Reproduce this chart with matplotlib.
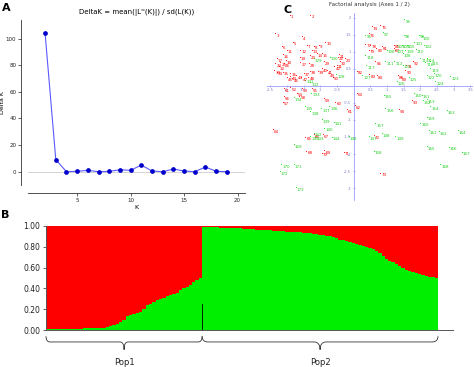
import matplotlib
matplotlib.use("Agg")
import matplotlib.pyplot as plt
from matplotlib.path import Path
from matplotlib.patches import PathPatch
import matplotlib.transforms as mtransforms

# ---------------- Panel A data ----------------
k_values = [2, 3, 4, 5, 6, 7, 8, 9, 10, 11, 12, 13, 14, 15, 16, 17, 18, 19]
delta_k = [104, 9, 0, 0.3, 1, 0, 0.2, 1.5, 1, 5, 0.5, 0, 2, 0.5, 0, 3.5, 0.3, 0]

# ---------------- Panel B data (green = cluster 2 membership) ----------------
pop1_green = [0.005, 0.006, 0.007, 0.008, 0.009, 0.010, 0.010, 0.011, 0.012, 0.013,
              0.014, 0.015, 0.016, 0.018, 0.020, 0.021, 0.022, 0.024, 0.028, 0.035,
              0.045, 0.060, 0.080, 0.100, 0.130, 0.140, 0.150, 0.160, 0.170, 0.200,
              0.240, 0.250, 0.270, 0.290, 0.300, 0.310, 0.330, 0.340, 0.350, 0.360,
              0.380, 0.400, 0.410, 0.430, 0.460, 0.480, 0.500]
pop2_green = [0.990, 0.990, 0.988, 0.987, 0.986, 0.985, 0.984, 0.983, 0.982, 0.980,
              0.978, 0.976, 0.974, 0.972, 0.970, 0.968, 0.966, 0.964, 0.962, 0.960,
              0.957, 0.955, 0.952, 0.950, 0.948, 0.946, 0.944, 0.942, 0.940, 0.938,
              0.935, 0.932, 0.930, 0.925, 0.920, 0.915, 0.910, 0.905, 0.900, 0.890,
              0.880, 0.870, 0.865, 0.860, 0.850, 0.840, 0.830, 0.820, 0.810, 0.800,
              0.790, 0.775, 0.760, 0.740, 0.710, 0.680, 0.665, 0.650, 0.635, 0.620,
              0.600, 0.580, 0.570, 0.560, 0.550, 0.540, 0.530, 0.520, 0.510, 0.505,
              0.500]
pop_labels = ["Pop1", "Pop2"]
y_ticks_b = [0.0, 0.2, 0.4, 0.6, 0.8, 1.0]

# ---------------- Panel C data (factorial analysis, axes 1/2) ----------------
red_x = [-1.92, -1.30, -2.35, -1.55, -1.82, -2.15, -1.40, -1.20, -1.05, -0.85,
         -2.00, -1.60, -1.25, -1.10, -0.95, -2.13, -2.30, -2.03, -1.62, -1.32,
         -0.45, -0.47, -0.27, -2.35, -2.20, -2.10, -1.60, -1.35, -0.90, -0.42,
         -0.50, -2.25, -2.38, -2.30, -2.12, -1.90, -1.50, -1.32, -1.07, -0.95,
         -0.80, -0.58, -1.90, -1.72, -2.00, -1.84, -1.57, -1.36, -0.75, -0.62,
         -2.10, -1.90, -1.55, -1.70, -1.25, -2.10, -2.12, -1.63, -0.90, -0.55,
         -0.20, 0.03, 0.10, -2.42, -1.45, -1.20, -0.92, -1.42, -0.88, -0.95,
         -0.30, 0.60, 0.80, 0.55, 0.80, 0.45, 0.35, 0.50, 0.45, 0.68,
         0.85, 0.10, 0.47, 0.70, 0.65, 1.20, 1.20, 1.32, 1.42, 1.55,
         1.58, 1.77, 1.75, 1.35]
red_y = [2.09, 2.09, 1.55, 1.47, 1.30, 1.18, 1.21, 1.18, 1.21, 1.30,
         1.06, 1.06, 1.06, 0.96, 0.96, 0.94, 0.81, 0.76, 0.86, 0.91,
         0.94, 0.86, 0.81, 0.67, 0.69, 0.67, 0.70, 0.67, 0.72, 0.72,
         0.62, 0.57, 0.47, 0.42, 0.42, 0.39, 0.39, 0.45, 0.45, 0.52,
         0.47, 0.57, 0.29, 0.31, 0.25, 0.23, 0.25, 0.27, 0.37, 0.27,
         -0.07, -0.04, -0.07, -0.20, -0.07, -0.31, -0.46, -0.29, -0.36, -0.46,
         -0.69, -0.56, -0.20, -1.27, -1.49, -1.42, -1.42, -1.90, -1.88, -1.96,
         -1.93, -1.44, -2.55, 1.75, 1.78, 1.55, 1.24, 1.21, 1.06, 1.11,
         1.16, 0.45, 0.35, 0.31, 0.72, 1.21, 1.11, 0.32, 0.25, 0.47,
         0.62, 0.72, -0.41, -0.69]
green_x = [1.52, 0.35, 0.88, 1.50, 1.95, 2.05, 1.82, 2.10, 1.30, 1.45,
           1.60, 1.00, 1.25, 1.48, 1.55, 1.87, 0.95, 1.22, 2.00, 2.20,
           2.30, 2.15, 0.38, 0.35, 2.30, 2.40, 1.48, 2.20, 2.90, 2.45,
           1.65, 1.30, 0.26, -0.52, -1.20, -0.72, -1.45, -1.30, -1.27, -1.80,
           -1.47, -0.73, -0.97, -1.30, -0.95, -0.88, -0.60, -1.20, -1.15, -0.65,
           -1.30, -0.15, 0.45, 0.85, 1.25, 1.80, 2.05, 2.08, 2.20, 2.30,
           0.90, 0.95, 0.65, 0.60, 2.20, 2.00, 2.25, 2.55, 2.80, 3.12,
           2.20, 2.85, 3.25, 2.60, -1.80, -2.17, -1.80, -2.22, -1.73]
green_y = [1.96, 1.50, 1.57, 1.50, 1.50, 1.47, 1.30, 1.21, 1.21, 1.21,
           1.21, 1.06, 1.06, 0.96, 1.06, 1.08, 0.72, 0.72, 0.81, 0.81,
           0.72, 0.70, 0.61, 0.91, 0.52, 0.37, 0.62, 0.32, 0.29, 0.13,
           0.25, 0.13, 0.32, 0.35, 0.81, 0.86, 0.18, 0.10, -0.20, -0.33,
           -0.59, -0.59, -0.66, -0.75, -0.98, -1.23, -1.05, -1.37, -1.49, -1.49,
           -1.47, -1.47, -1.47, -1.39, -1.47, -0.22, -0.26, -0.41, -0.39, -0.59,
           -0.26, -0.66, -1.10, -1.90, -0.90, -1.08, -1.29, -1.32, -0.71, -1.29,
           -1.76, -1.78, -1.93, -2.29, -1.72, -2.30, -2.30, -2.50, -2.98]
c_xticks = [-2.5, -2, -1.5, -1, -0.5, 0.5, 1, 1.5, 2, 2.5, 3, 3.5]
c_yticks = [2, 1.5, 1, 0.5, -0.5, -1, -1.5, -2, -2.5, -3]

RED = "#ff0000"
GREEN = "#00ee00"

W, H = 474, 367
fig = plt.figure(figsize=(W / 100, H / 100), dpi=100)


def fbox(l, t, r, b):
    return [l / W, 1 - b / H, (r - l) / W, (b - t) / H]


# ================= Panel A =================
axA = fig.add_axes(fbox(28, 20, 245, 185))
axA.axhline(0, color="#cccccc", lw=0.6, zorder=1)
axA.plot(k_values, delta_k, color="#5a5aff", lw=0.8, zorder=2)
axA.plot(k_values, delta_k, "o", color="#0000cc", ms=2.4, zorder=3)
axA.set_xlim(0.4, 20.7)
axA.set_ylim(-10, 114)
axA.set_xticks([5, 10, 15, 20])
axA.set_yticks([0, 20, 40, 60, 80, 100])
for s in ["top", "right"]:
    axA.spines[s].set_visible(False)
axA.spines["left"].set_position(("outward", 5))
axA.spines["bottom"].set_position(("outward", 6))
for s in ["left", "bottom"]:
    axA.spines[s].set_color("#333333")
    axA.spines[s].set_linewidth(0.6)
axA.tick_params(labelsize=4, length=2, width=0.5, pad=1.5, colors="#222222")
axA.set_ylabel("Delta K", fontsize=4.5)
axA.yaxis.set_label_coords(-0.105, 0.5)
axA.set_xlabel("K", fontsize=4.5, labelpad=1)
axA.set_title("DeltaK = mean(|L''(K)|) / sd(L(K))", fontsize=5, pad=4)

# ================= Panel B =================
n1, n2 = len(pop1_green), len(pop2_green)
green_all = pop1_green + pop2_green
n = n1 + n2
idx = list(range(n))
axB = fig.add_axes(fbox(46, 226, 453, 330))
axB.bar(idx, green_all, width=1.0, align="edge", color=GREEN, lw=0, zorder=2)
axB.bar(idx, [1 - g for g in green_all], bottom=green_all, width=1.0,
        align="edge", color=RED, lw=0, zorder=2)
axB.set_xlim(0, n * 407 / 392)
axB.set_ylim(0, 1.0)
axB.set_yticks(y_ticks_b)
axB.set_yticklabels([f"{v:.2f}" for v in y_ticks_b])
axB.set_xticks([])
for s in ["top", "right"]:
    axB.spines[s].set_visible(False)
for s in ["left", "bottom"]:
    axB.spines[s].set_color("#555555")
    axB.spines[s].set_linewidth(0.7)
axB.tick_params(axis="y", labelsize=5.5, length=2, width=0.5, pad=2, colors="#222222")
axB.plot([n1, n1], [0, 0.25], color="black", lw=0.6, zorder=3)

trB = mtransforms.blended_transform_factory(axB.transData, axB.transAxes)


def brace(ax, x0, x1, ytop, ymid, ytip, trans):
    xm = (x0 + x1) / 2
    d = (x1 - x0) * 0.025
    verts = [(x0, ytop), (x0, ymid), (x0 + d, ymid),
             (xm - d, ymid),
             (xm, ymid), (xm, ytip),
             (xm, ymid), (xm + d, ymid),
             (x1 - d, ymid),
             (x1, ymid), (x1, ytop)]
    codes = [Path.MOVETO, Path.CURVE3, Path.CURVE3,
             Path.LINETO,
             Path.CURVE3, Path.CURVE3,
             Path.CURVE3, Path.CURVE3,
             Path.LINETO,
             Path.CURVE3, Path.CURVE3]
    p = PathPatch(Path(verts, codes), fill=False, lw=0.6, color="#333333",
                  transform=trans, clip_on=False)
    ax.add_patch(p)
    return xm


m1 = brace(axB, 0, n1, -0.06, -0.115, -0.19, trB)
m2 = brace(axB, n1, n, -0.06, -0.115, -0.19, trB)
axB.text(m1, -0.31, pop_labels[0], transform=trB, ha="center", va="center",
         fontsize=6, color="#222222", clip_on=False)
axB.text(m2, -0.31, pop_labels[1], transform=trB, ha="center", va="center",
         fontsize=6, color="#222222", clip_on=False)

# ================= Panel C =================
axC = fig.add_axes(fbox(267, 13, 472, 200))
axC.set_xlim(-2.6, 3.55)
axC.set_ylim(-3.35, 2.14)
for s in ["top", "right"]:
    axC.spines[s].set_visible(False)
axC.spines["left"].set_position(("data", 0))
axC.spines["bottom"].set_position(("data", 0))
for s in ["left", "bottom"]:
    axC.spines[s].set_color("#9a9aff")
    axC.spines[s].set_linewidth(0.6)
axC.set_xticks(c_xticks)
axC.set_xticklabels([f"{v:g}" for v in c_xticks])
axC.set_yticks(c_yticks)
axC.set_yticklabels([f"{v:g}" for v in c_yticks])
axC.tick_params(labelsize=2.6, length=1.5, width=0.4, pad=1, colors="#7a7acc",
                direction="inout")
axC.patch.set_alpha(0)
axC.set_title("Factorial analysis (Axes 1 / 2)", fontsize=4, pad=5, color="#333333")

axC.scatter(red_x, red_y, s=0.6, color=RED, lw=0, zorder=3)
axC.scatter(green_x, green_y, s=0.6, color=GREEN, lw=0, zorder=3)
for i, (x, y) in enumerate(zip(red_x, red_y)):
    axC.text(x + 0.03, y - 0.02, str(i + 1), fontsize=2.9, color=RED,
             ha="left", va="top", zorder=4)
for i, (x, y) in enumerate(zip(green_x, green_y)):
    axC.text(x + 0.03, y - 0.02, str(len(red_x) + i + 1), fontsize=2.9,
             color="#22cc22", ha="left", va="top", zorder=4)

# Panel letters
fig.text(2 / W, 1 - 8 / H, "A", fontsize=8, fontweight="bold", va="center")
fig.text(1 / W, 1 - 215 / H, "B", fontsize=8, fontweight="bold", va="center")
fig.text(283 / W, 1 - 10 / H, "C", fontsize=8, fontweight="bold", va="center")

fig.savefig("out.png", dpi=100)
